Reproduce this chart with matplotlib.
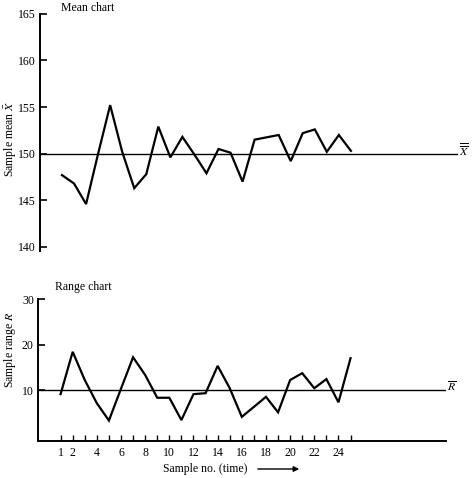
import numpy as np
import matplotlib
matplotlib.use("Agg")
import matplotlib.pyplot as plt

plt.rcParams["font.family"] = ["Liberation Serif", "DejaVu Serif"]
plt.rcParams["mathtext.fontset"] = "stix"

samples = np.arange(1, 26)
means = [147.7, 146.8, 144.6, 150.0, 155.2, 150.2, 146.3, 147.8, 152.9, 149.6,
         151.8, 149.9, 147.9, 150.5, 150.1, 147.0, 151.5, 151.75, 152.0, 149.2,
         152.2, 152.6, 150.2, 152.0, 150.3]
ranges = [9.1, 18.4, 12.2, 7.1, 3.3, 10.3, 17.2, 13.3, 8.3, 8.3,
          3.4, 9.1, 9.3, 15.3, 10.4, 4.1, 6.3, 8.5, 5.1, 12.2,
          13.7, 10.4, 12.4, 7.3, 17.0]
xbarbar = 150
rbar = 10
mean_ticks = [140, 145, 150, 155, 160, 165]
range_ticks = [10, 20, 30]
xtick_labels = [1, 2, 4, 6, 8, 10, 12, 14, 16, 18, 20, 22, 24]

W, H = 474, 478
fig = plt.figure(figsize=(W / 100, H / 100), dpi=100)


def rect(x0, y0, x1, y1):
    return [x0 / W, 1 - y1 / H, (x1 - x0) / W, (y1 - y0) / H]


def fxy(x, y):
    return x / W, 1 - y / H


XL = (-0.87, 32.9)
lw_line = 1.6
fs = 8.5

# mean chart
ax1 = fig.add_axes(rect(39.5, 13.7, 446, 250.7))
ax1.plot(samples, means, color="black", lw=lw_line, solid_joinstyle="miter")
ax1.plot([XL[0], 33.85], [xbarbar, xbarbar], color="black", lw=1.0, clip_on=False)
ax1.set_xlim(*XL)
ax1.set_ylim(139.6, 165)
ax1.set_yticks(mean_ticks)
ax1.set_xticks([])
for s in ["top", "right", "bottom"]:
    ax1.spines[s].set_visible(False)
ax1.spines["left"].set_linewidth(1.4)
ax1.tick_params(axis="y", direction="in", length=5, width=1.2, labelsize=fs, pad=3)
fig.text(*fxy(11, 139), r"Sample mean $\bar{X}$", fontsize=fs, rotation=90,
         ha="center", va="center")
fig.text(*fxy(61, 8), "Mean chart", fontsize=fs, ha="left", va="center")
ax1.text(34.0, xbarbar + 0.2, r"$\overline{\overline{X}}$", fontsize=fs,
         ha="left", va="center")

# range chart
ax2 = fig.add_axes(rect(38, 299, 446, 441))
ax2.plot(samples, ranges, color="black", lw=lw_line, solid_joinstyle="miter")
ax2.axhline(rbar, color="black", lw=1.0)
ax2.set_xlim(*XL)
ax2.set_ylim(-1.2, 30)
ax2.set_yticks(range_ticks)
ax2.set_xticks(samples)
ax2.set_xticklabels([str(s) if s in xtick_labels else "" for s in samples])
for s in ["top", "right"]:
    ax2.spines[s].set_visible(False)
ax2.spines["left"].set_linewidth(1.4)
ax2.spines["bottom"].set_linewidth(1.4)
ax2.tick_params(axis="y", direction="in", length=5, width=1.2, labelsize=fs, pad=3)
ax2.tick_params(axis="x", direction="in", length=4, width=1.0, labelsize=fs, pad=4)
fig.text(*fxy(10, 350), r"Sample range $R$", fontsize=fs, rotation=90,
         ha="center", va="center")
fig.text(*fxy(55, 287), "Range chart", fontsize=fs, ha="left", va="center")
ax2.text(33.0, rbar + 0.5, r"$\overline{R}$", fontsize=fs, ha="left", va="center")

fig.text(*fxy(205, 469), "Sample no. (time)", fontsize=fs, ha="center", va="center")
fig.add_artist(matplotlib.patches.FancyArrowPatch(
    fxy(255, 469), fxy(302, 469), transform=fig.transFigure,
    arrowstyle="-|>", mutation_scale=8, color="black", lw=1.0))

fig.savefig("out.png", dpi=100)
